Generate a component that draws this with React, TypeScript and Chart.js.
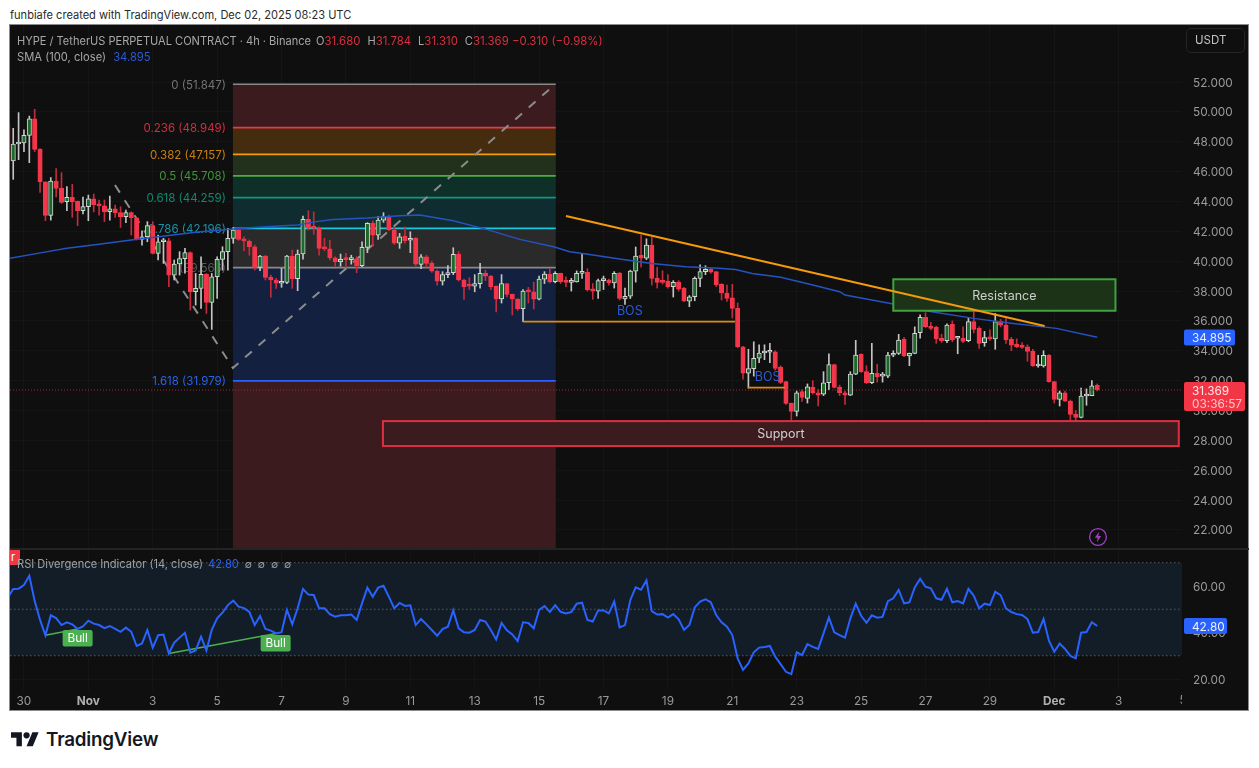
import { useEffect, useRef } from "react";
import { Chart, registerables } from "chart.js";

Chart.register(...registerables);

// one bar every 4h, first bar is index -3, index 0 sits on the "30" tick
const firstBar = -3;

const opens = [
  49.1, 46.71, 47.85, 47.93, 48.43, 49.54, 47.49, 45.32, 43.07, 45.37,
  44.9, 43.98, 44.27, 44.03, 43.38, 43.65, 44.18, 43.83, 43.7, 43.31,
  43.5, 43.25, 42.98, 43.25, 42.91, 41.46, 41.64, 42.38, 40.52, 41.3,
  41.37, 39.07, 39.81, 40.17, 40.57, 37.96, 38.18, 39.12, 37.24, 38.96,
  40.12, 40.64, 41.53, 42.08, 41.5, 41.35, 40.97, 39.59, 40.35, 38.92,
  38.74, 38.52, 38.57, 40.35, 38.83, 40.48, 42.8, 42.24, 42.2, 40.9,
  40.82, 40.23, 39.96, 40.12, 40.1, 40.16, 39.7, 40.93, 42.53, 41.75,
  42.75, 42.98, 42.09, 41.2, 41.68, 41.4, 41.53, 39.79, 40.3, 39.85,
  39.34, 38.67, 39.1, 39.23, 40.46, 38.74, 38.4, 38.33, 38.5, 39.18,
  39.0, 38.33, 37.47, 38.5, 37.78, 37.47, 36.82, 38.0, 37.95, 37.45,
  38.8, 39.14, 38.63, 39.18, 38.67, 38.58, 38.62, 39.18, 39.25, 38.15,
  38.0, 38.7, 38.74, 38.55, 39.2, 37.47, 37.65, 39.33, 40.4, 40.2,
  41.08, 38.87, 38.65, 38.67, 38.3, 38.6, 38.18, 37.33, 37.62, 38.85,
  39.3, 39.45, 39.3, 38.45, 37.87, 37.55, 36.84, 34.27, 32.5, 32.8,
  33.5, 33.85, 33.9, 33.93, 32.9, 31.93, 30.5, 29.94, 31.26, 30.81,
  31.55, 31.19, 31.1, 31.86, 33.07, 31.55, 31.19, 31.03, 32.44, 33.76,
  32.6, 31.86, 32.49, 32.3, 32.3, 33.7, 33.82, 34.76, 33.65, 33.83,
  35.21, 36.24, 35.66, 35.57, 34.83, 34.67, 35.77, 34.84, 34.85, 34.67,
  35.95, 35.5, 34.54, 34.9, 34.8, 35.95, 35.72, 34.76, 34.45, 34.38,
  34.27, 33.98, 32.98, 32.98, 33.71, 31.93, 30.75, 31.19, 30.63, 29.74,
  29.54, 30.97, 31.0, 31.68
];

const closes = [
  46.71, 47.84, 47.93, 48.43, 49.54, 47.49, 45.32, 43.07, 45.37, 44.87,
  43.94, 44.27, 43.98, 43.38, 43.65, 44.18, 43.78, 43.7, 43.31, 43.5,
  43.25, 42.98, 43.25, 42.91, 41.46, 41.64, 42.38, 40.52, 41.3, 41.37,
  39.07, 39.81, 40.17, 40.57, 37.96, 38.18, 39.12, 37.24, 38.96, 40.12,
  40.64, 41.53, 42.08, 41.46, 41.35, 40.97, 39.59, 40.35, 38.92, 38.74,
  38.52, 38.57, 40.35, 38.83, 40.48, 42.8, 42.24, 42.2, 40.86, 40.82,
  40.23, 39.96, 40.12, 40.1, 40.16, 39.7, 40.93, 42.53, 41.75, 42.75,
  42.98, 42.09, 41.2, 41.64, 41.37, 41.45, 39.8, 40.3, 39.85, 39.34,
  38.67, 39.1, 39.23, 40.46, 38.74, 38.3, 38.33, 38.5, 39.18, 39.0,
  38.3, 37.47, 38.5, 37.78, 37.47, 36.82, 38.0, 37.95, 37.45, 38.8,
  39.14, 38.63, 39.18, 38.63, 38.58, 38.62, 39.18, 39.25, 38.1, 38.0,
  38.7, 38.74, 38.55, 39.18, 37.5, 37.65, 39.33, 40.35, 40.2, 41.08,
  38.85, 38.58, 38.58, 38.3, 38.58, 38.13, 37.33, 37.62, 38.85, 39.3,
  39.45, 39.27, 38.43, 37.87, 37.5, 36.84, 34.27, 32.5, 32.8, 33.5,
  33.85, 33.93, 33.97, 32.82, 31.88, 30.48, 29.94, 31.19, 30.88, 31.59,
  31.19, 31.03, 31.86, 33.07, 31.55, 31.19, 31.03, 32.44, 33.71, 32.6,
  31.86, 32.49, 32.27, 32.33, 33.71, 33.83, 34.72, 33.65, 33.83, 35.17,
  36.24, 35.61, 35.5, 34.79, 34.67, 35.72, 34.72, 34.9, 34.63, 35.95,
  35.43, 34.5, 34.88, 34.8, 35.95, 35.72, 34.72, 34.38, 34.27, 34.23,
  33.96, 32.98, 33.02, 33.69, 31.93, 30.75, 31.19, 30.63, 29.74, 29.54,
  30.97, 31.0, 31.66, 31.37
];

const highs = [
  49.6, 48.9, 49.95, 48.8, 49.72, 50.17, 47.55, 45.32, 45.6, 46.2,
  45.93, 44.99, 45.15, 44.03, 44.3, 44.43, 44.5, 44.1, 44.1, 44.36,
  43.76, 43.65, 43.43, 43.31, 42.91, 42.04, 42.65, 42.65, 41.75, 41.53,
  41.53, 40.08, 40.64, 40.86, 40.63, 39.18, 40.3, 39.18, 39.18, 40.3,
  40.97, 42.2, 42.26, 42.2, 41.64, 41.42, 41.08, 40.4, 40.4, 39.07,
  38.85, 39.52, 40.4, 40.75, 40.75, 43.02, 43.38, 43.3, 42.3, 41.53,
  41.4, 40.3, 40.48, 40.52, 40.4, 40.3, 41.3, 42.58, 42.7, 42.98,
  43.25, 43.09, 42.2, 41.86, 42.3, 41.97, 41.6, 40.45, 40.4, 40.0,
  39.4, 39.3, 39.7, 40.9, 40.65, 38.8, 38.9, 39.1, 39.85, 39.4,
  39.05, 38.35, 39.1, 38.5, 37.8, 37.5, 38.1, 38.25, 38.6, 39.0,
  39.3, 39.5, 39.3, 39.2, 38.95, 38.85, 39.35, 40.5, 39.5, 38.5,
  38.8, 39.0, 38.8, 39.3, 39.25, 38.2, 39.4, 40.95, 41.75, 41.5,
  41.6, 39.6, 39.36, 39.1, 38.7, 38.7, 38.25, 37.7, 38.95, 39.75,
  39.7, 39.5, 39.3, 38.5, 38.4, 38.45, 37.2, 34.3, 34.1, 34.6,
  34.4, 34.4, 34.5, 34.0, 33.0, 31.95, 30.5, 31.3, 31.4, 31.78,
  32.0, 31.4, 32.6, 33.8, 33.1, 31.7, 31.3, 32.6, 34.7, 33.8,
  33.0, 34.5, 33.1, 32.55, 33.9, 34.0, 35.1, 34.9, 33.85, 35.6,
  36.4, 36.55, 35.9, 35.65, 35.1, 35.8, 36.0, 34.9, 35.6, 36.2,
  36.8, 35.6, 35.3, 35.4, 36.5, 36.1, 36.2, 34.9, 34.8, 34.55,
  34.4, 34.1, 33.7, 34.0, 33.75, 31.95, 31.3, 31.3, 30.7, 30.0,
  31.5, 31.45, 32.0, 31.78
];

const lows = [
  46.5, 45.48, 46.8, 47.33, 46.6, 47.33, 44.6, 42.71, 42.75, 44.3,
  43.87, 43.38, 42.94, 42.38, 43.16, 42.71, 43.3, 43.09, 42.65, 42.75,
  42.94, 42.26, 42.58, 41.75, 41.42, 41.08, 41.3, 40.48, 40.08, 39.85,
  38.29, 38.74, 39.07, 39.19, 36.73, 37.06, 36.84, 36.5, 35.43, 37.5,
  39.4, 39.4, 41.2, 41.4, 40.7, 40.4, 39.4, 39.36, 38.74, 37.58,
  38.18, 38.25, 38.5, 38.18, 38.02, 40.14, 42.08, 41.8, 40.4, 40.7,
  40.08, 39.67, 39.67, 39.58, 39.8, 39.23, 39.63, 40.57, 41.0, 41.46,
  42.6, 42.04, 41.12, 40.86, 41.2, 40.57, 39.7, 39.5, 39.6, 39.25,
  38.4, 38.4, 38.9, 39.1, 38.67, 37.44, 38.1, 37.95, 38.2, 38.7,
  38.1, 36.6, 37.2, 37.6, 36.4, 36.7, 35.95, 37.2, 36.8, 37.4,
  38.5, 38.55, 38.55, 38.5, 38.3, 38.0, 38.6, 38.85, 38.0, 37.45,
  37.5, 38.1, 38.4, 38.2, 37.4, 37.1, 37.5, 38.6, 39.6, 40.1,
  38.4, 38.2, 38.47, 38.2, 37.6, 38.0, 37.3, 36.95, 37.35, 38.3,
  39.1, 39.2, 38.3, 37.4, 37.3, 36.2, 34.2, 32.1, 31.5, 32.3,
  33.2, 33.4, 33.2, 32.7, 31.8, 30.4, 29.3, 29.63, 30.6, 30.5,
  31.1, 30.3, 31.0, 31.4, 31.5, 31.0, 30.4, 31.0, 32.4, 32.55,
  31.8, 31.8, 31.9, 31.9, 32.2, 33.6, 33.75, 33.6, 33.0, 33.8,
  34.85, 35.55, 35.4, 34.5, 34.55, 34.55, 34.6, 33.8, 34.55, 34.6,
  35.2, 34.15, 34.3, 34.7, 34.1, 35.6, 34.5, 34.0, 34.2, 34.15,
  33.3, 32.95, 32.9, 32.9, 31.9, 30.5, 30.3, 30.6, 29.25, 29.25,
  29.5, 30.35, 31.0, 31.31
];

const rsiValues = [
  55, 58.7, 58.85, 60.4, 64.4, 53.5, 45.4, 38.8, 47.4, 46.2,
  43.2, 44.4, 43.5, 41.5, 42.6, 45.1, 43.8, 43.2, 41.9, 42.8,
  41.6, 40.3, 42.1, 40.3, 34.2, 35.3, 41.1, 33.5, 38.8, 39.1,
  31.0, 35.6, 37.8, 39.9, 31.3, 32.3, 38.2, 32.3, 41.1, 46.1,
  48.5, 51.8, 53.7, 51.1, 50.5, 48.9, 43.2, 47.1, 41.5, 40.8,
  39.6, 40.1, 49.7, 43.5, 50.4, 58.7, 56.3, 56.1, 50.4, 50.4,
  47.9, 46.8, 47.4, 47.4, 47.7, 45.4, 52.5, 59.3, 55.4, 59.3,
  60.1, 55.4, 50.4, 52.7, 51.4, 51.7, 43.2, 45.8, 43.5, 41.1,
  38.6, 41.5, 42.5, 49.5, 41.8, 40.1, 39.9, 41.1, 45.4, 44.7,
  41.1, 37.0, 44.1, 40.9, 39.2, 36.3, 44.4, 44.1, 41.8, 49.7,
  51.4, 48.8, 51.8, 48.9, 48.2, 48.8, 52.4, 52.8, 45.4, 44.7,
  49.5, 49.5, 48.2, 53.3, 42.2, 43.2, 54.0, 59.4, 58.4, 62.4,
  49.2, 47.7, 47.9, 46.4, 47.9, 45.7, 41.1, 43.2, 50.8, 53.3,
  54.3, 53.0, 47.5, 44.4, 42.5, 38.9, 28.9, 23.9, 26.7, 31.5,
  33.5, 33.8, 34.2, 29.6, 26.4, 23.1, 22.1, 31.5, 30.3, 35.0,
  33.8, 32.9, 39.6, 46.4, 40.1, 38.9, 37.8, 46.1, 52.4, 47.2,
  44.2, 47.4, 46.4, 46.7, 53.5, 54.7, 58.3, 52.5, 53.0, 59.4,
  63.1, 59.7, 59.0, 54.7, 54.1, 58.8, 53.0, 53.5, 52.5, 58.8,
  55.8, 50.4, 52.4, 51.8, 57.5, 56.1, 50.4, 48.8, 47.9, 47.5,
  45.8, 39.9, 40.2, 45.8, 36.5, 31.7, 35.2, 32.9, 29.9, 28.9,
  39.9, 40.2, 44.4, 42.8
];

const smaBars = [
  -2.6, 3.6, 8, 14, 20, 26.6, 32.8, 39, 45, 51, 54.5, 57.6, 64, 70, 73.8, 80,
  86.2, 92.4, 98.7, 101.7, 104.8, 111, 117, 123.3, 129.5, 132.6, 135.7, 141,
  147, 152, 153, 162, 168, 177, 184, 192.4, 200
];
const smaValues = [
  40.19, 40.59, 40.86, 41.13, 41.42, 41.71, 41.98, 42.15, 42.31, 42.42, 42.65,
  42.8, 42.89, 43.05, 43.09, 42.71, 42.13, 41.46, 40.97, 40.63, 40.48, 40.14,
  39.85, 39.63, 39.52, 39.45, 39.18, 38.92, 38.4, 37.96, 37.73, 37.13, 36.68,
  36.17, 35.84, 35.5, 34.9
];

const dayTickBars = [0, 12, 24, 36, 48, 60, 72, 84, 96, 108, 120, 132, 144, 156, 168, 180, 192, 204];
const dayTickNames = ["30", "Nov", "3", "5", "7", "9", "11", "13", "15", "17", "19", "21", "23", "25", "27", "29", "Dec", "3"];
const priceTicks = [22, 24, 26, 28, 30, 32, 34, 36, 38, 40, 42, 44, 46, 48, 50, 52];
const rsiTicks = [20, 40, 60];

const fibRatios = ["0", "0.236", "0.382", "0.5", "0.618", "0.786", "1", "1.618"];
const fibPrices = [51.847, 48.949, 47.157, 45.708, 44.259, 42.196, 39.566, 31.979];
const fibStartBar = 38.94;
const fibEndBar = 99.1;

const swingBars = [16.96, 38.94, 98.2];
const swingPrices = [45.1, 32.84, 51.6];

const trendBars = [101, 190.2];
const trendPrices = [43.03, 35.66];

const bosBars = [93, 132.5, 134.9, 141.8];
const bosPrices = [35.95, 31.53];
const bosLabelBars = [112.9, 138.6];
const bosLabelPrices = [36.66, 32.24];

const resistanceZone = [162, 203.4, 36.68, 38.79];
const supportZone = [66.9, 215.2, 27.62, 29.29];

const lastPrice = 31.369;
const smaLast = 34.895;
const rsiLast = 42.8;
const rsiBands = [70, 50, 30];

const bullBars = [4, 10, 27, 47];
const bullValues = [38.8, 41.5, 31.0, 39.6];
const bullLabelBars = [10, 46.9];
const bullLabelValues = [37.6, 35.5];

const FONT = "Inter, sans-serif";
const GRID = "rgba(255,255,255,0.028)";
const TICK = "#9a9a9a";
const UP_FILL = "#1c6a2b";
const UP_EDGE = "#d6d6d6";
const UP_WICK = "#c4c4c4";
const DOWN_FILL = "#f5364a";
const DOWN_WICK = "#c22c3c";
const BLUE = "#2962ff";
const fibLine = ["#8a8a8a", "#e53b48", "#f79a0c", "#4caf3c", "#0e9a80", "#19c8dc", "#8a8a8a", "#2962ff"];
const fibText = ["#747474", "#cf2f3d", "#c97f10", "#3f953a", "#0e8a70", "#1b93a8", "#5a5a5a", "#2a62e8"];
const fibFill = ["#3c1b1f", "#452c0e", "#21311c", "#0f3029", "#0f2d31", "#2a2a2a", "#142040", "#3c1b1f"];

const bars = opens.map((_, i) => i + firstBar);
const isUp = opens.map((o, i) => closes[i] >= o);

const segment = (xs: number[], ys: number[]) => xs.map((x, i) => ({ x, y: ys[i] }));

const lineSet = (data: { x: number; y: number }[], color: string, width: number, order: number, dash: number[] = []) => ({
  type: "line" as const,
  data,
  borderColor: color,
  borderWidth: width,
  borderDash: dash,
  pointRadius: 0,
  tension: 0,
  fill: false,
  order
});

const zonesPlugin = {
  id: "zones",
  beforeDatasetsDraw(chart: any) {
    const { ctx, scales } = chart;
    const { x, y } = scales;
    const left = x.getPixelForValue(fibStartBar);
    const right = x.getPixelForValue(fibEndBar);
    ctx.save();
    fibPrices.forEach((p, i) => {
      const top = y.getPixelForValue(p);
      const bottom = i < fibPrices.length - 1 ? y.getPixelForValue(fibPrices[i + 1]) : chart.chartArea.bottom;
      ctx.fillStyle = fibFill[i];
      ctx.fillRect(left, top, right - left, bottom - top);
    });
    ctx.font = `11.5px ${FONT}`;
    ctx.textAlign = "right";
    ctx.textBaseline = "middle";
    fibPrices.forEach((p, i) => {
      ctx.fillStyle = fibText[i];
      ctx.fillText(`${fibRatios[i]} (${p.toFixed(3)})`, left - 7, y.getPixelForValue(p) + 1);
    });
    ctx.restore();
  }
};

const boxesPlugin = {
  id: "boxes",
  afterDatasetDraw(chart: any, args: any) {
    // boxes sit under the orange trend line, so they go in right after the sma
    if (chart.data.datasets[args.index].label !== "sma") return;
    const { ctx, scales } = chart;
    const { x, y } = scales;
    const box = (zone: number[], fill: string, edge: string, text: string) => {
      const left = x.getPixelForValue(zone[0]);
      const right = x.getPixelForValue(zone[1]);
      const top = y.getPixelForValue(zone[3]);
      const bottom = y.getPixelForValue(zone[2]);
      ctx.fillStyle = fill;
      ctx.fillRect(left, top, right - left, bottom - top);
      ctx.strokeStyle = edge;
      ctx.lineWidth = 2;
      ctx.strokeRect(left, top, right - left, bottom - top);
      ctx.fillStyle = "#cfcfcf";
      ctx.font = `12.5px ${FONT}`;
      ctx.textAlign = "center";
      ctx.textBaseline = "middle";
      ctx.fillText(text, (left + right) / 2, (top + bottom) / 2 + 1);
    };
    ctx.save();
    box(resistanceZone, "#1c3318", "#3fa33f", "Resistance");
    box(supportZone, "#3c1b1f", "#dc3040", "Support");
    ctx.restore();
  }
};

const tagsPlugin = {
  id: "tags",
  afterDraw(chart: any) {
    const { ctx, scales, chartArea } = chart;
    const { x, y } = scales;
    ctx.save();
    ctx.font = `12.5px ${FONT}`;
    ctx.textAlign = "center";
    ctx.textBaseline = "middle";
    ctx.fillStyle = "#2a5bd6";
    bosLabelBars.forEach((b, i) => {
      ctx.fillText("BOS", x.getPixelForValue(b), y.getPixelForValue(bosLabelPrices[i]));
    });

    const left = chartArea.right + 2;
    ctx.textAlign = "left";
    ctx.font = `11.8px ${FONT}`;

    const smaY = y.getPixelForValue(smaLast);
    ctx.fillStyle = BLUE;
    ctx.beginPath();
    ctx.roundRect(left, smaY - 8, 51, 16, 2);
    ctx.fill();
    ctx.fillStyle = "#e8eeff";
    ctx.fillText(smaLast.toFixed(3), left + 8, smaY + 1);

    const lastY = y.getPixelForValue(lastPrice);
    ctx.fillStyle = "#f23645";
    ctx.beginPath();
    ctx.roundRect(left, lastY - 8, 61, 29, 2);
    ctx.fill();
    ctx.fillStyle = "#ffe6e8";
    ctx.fillText(lastPrice.toFixed(3), left + 8, lastY + 1);
    ctx.fillStyle = "#ffc4c9";
    ctx.fillText("03:36:57", left + 8, lastY + 14);
    ctx.restore();
  }
};

const rsiPlugin = {
  id: "rsiExtras",
  beforeDatasetsDraw(chart: any) {
    const { ctx, scales, chartArea } = chart;
    const top = scales.y.getPixelForValue(rsiBands[0]);
    const bottom = scales.y.getPixelForValue(rsiBands[2]);
    ctx.save();
    ctx.fillStyle = "#121d27";
    ctx.fillRect(chartArea.left, top, chartArea.right - chartArea.left, bottom - top);
    ctx.restore();
  },
  afterDraw(chart: any) {
    const { ctx, scales, chartArea } = chart;
    const { x, y } = scales;
    ctx.save();
    ctx.textAlign = "center";
    ctx.textBaseline = "middle";
    ctx.font = `11.8px ${FONT}`;
    bullLabelBars.forEach((b, i) => {
      const cx = x.getPixelForValue(b);
      const cy = y.getPixelForValue(bullLabelValues[i]);
      ctx.fillStyle = "#4caf50";
      ctx.beginPath();
      ctx.roundRect(cx - 15, cy - 8, 30, 16.5, 2);
      ctx.fill();
      ctx.fillStyle = "#ffffff";
      ctx.fillText("Bull", cx, cy + 0.5);
    });

    const tagY = y.getPixelForValue(rsiLast);
    ctx.fillStyle = BLUE;
    ctx.beginPath();
    ctx.roundRect(chartArea.right + 2, tagY - 8, 43, 16, 2);
    ctx.fill();
    ctx.textAlign = "left";
    ctx.fillStyle = "#eef2ff";
    ctx.fillText(rsiLast.toFixed(2), chartArea.right + 10, tagY + 1);

    // the next day label is cut by the price scale
    ctx.beginPath();
    ctx.rect(chartArea.right - 4, chartArea.bottom, 4, 21);
    ctx.clip();
    ctx.textAlign = "center";
    ctx.fillStyle = TICK;
    ctx.fillText("5", x.getPixelForValue(216), chartArea.bottom + 10);
    ctx.restore();
  }
};

const isMonthTick = (ctx: any) => !!ctx.tick && (ctx.tick.value === 12 || ctx.tick.value === 192);

const dropPadding = (scale: any) => {
  scale.paddingTop = 0;
  scale.paddingBottom = 0;
  scale.paddingLeft = 0;
  scale.paddingRight = 0;
};

const xScale = (showLabels: boolean) => ({
  type: "linear" as const,
  min: -2.6,
  max: 215.8,
  offset: false,
  grid: { color: GRID, drawTicks: false, offset: false },
  border: { display: false },
  afterBuildTicks: (scale: any) => {
    scale.ticks = dayTickBars.map((value) => ({ value }));
  },
  afterFit: (scale: any) => {
    scale.height = showLabels ? 21 : 0;
    dropPadding(scale);
  },
  ticks: {
    display: showLabels,
    autoSkip: false,
    maxRotation: 0,
    padding: 4,
    color: (ctx: any) => (isMonthTick(ctx) ? "#b0b0b0" : TICK),
    font: (ctx: any) => ({
      family: FONT,
      size: 11.8,
      weight: isMonthTick(ctx) ? "bold" : "normal"
    }),
    callback: (value: number | string) => dayTickNames[dayTickBars.indexOf(Number(value))]
  }
});

const yScale = (min: number, max: number, ticks: number[], digits: number) => ({
  position: "right" as const,
  min,
  max,
  beginAtZero: false,
  grid: { color: GRID, drawTicks: false },
  border: { display: false },
  afterBuildTicks: (scale: any) => {
    scale.ticks = ticks.map((value) => ({ value }));
  },
  afterFit: (scale: any) => {
    scale.width = 67;
    dropPadding(scale);
  },
  ticks: {
    autoSkip: false,
    padding: 11,
    labelOffset: 1,
    color: TICK,
    font: { family: FONT, size: 11.8 },
    callback: (value: number | string) => Number(value).toFixed(digits)
  }
});

function PricePane() {
  const canvasRef = useRef<HTMLCanvasElement | null>(null);

  useEffect(() => {
    if (!canvasRef.current) return;

    const fibSets = fibPrices.map((p, i) =>
      lineSet(segment([fibStartBar, fibEndBar], [p, p]), fibLine[i], i === 0 || i === 6 ? 1.6 : 1.8, 10)
    );

    const chart = new Chart(canvasRef.current, {
      type: "bar",
      data: {
        datasets: [
          ...fibSets,
          lineSet(segment(swingBars, swingPrices), "#8c8c8c", 2, 9, [9, 9]),
          {
            type: "bar",
            data: bars.map((x, i) => ({ x, y: [lows[i], highs[i]] })),
            backgroundColor: isUp.map((up) => (up ? UP_WICK : DOWN_WICK)),
            barThickness: 1,
            grouped: false,
            order: 6
          },
          {
            type: "bar",
            data: bars.map((x, i) => ({ x, y: [opens[i], closes[i]] })),
            backgroundColor: isUp.map((up) => (up ? UP_FILL : DOWN_FILL)),
            borderColor: isUp.map((up) => (up ? UP_EDGE : DOWN_FILL)),
            borderWidth: 1,
            borderSkipped: false,
            barThickness: 4.4,
            minBarLength: 2,
            grouped: false,
            order: 5
          },
          { ...lineSet(segment(smaBars, smaValues), "#2553c4", 1.5, 4), label: "sma" },
          lineSet(segment(trendBars, trendPrices), "#f59a0c", 2, 3),
          lineSet(segment([bosBars[0], bosBars[1]], [bosPrices[0], bosPrices[0]]), "#e08a10", 1.6, 3),
          lineSet(segment([bosBars[2], bosBars[3]], [bosPrices[1], bosPrices[1]]), "#e08a10", 1.6, 3),
          lineSet(segment([-2.6, 215.8], [lastPrice, lastPrice]), "#a12a36", 1, 2, [1, 2])
        ] as any
      },
      options: {
        responsive: false,
        animation: false,
        layout: { padding: 0 },
        plugins: { legend: { display: false }, tooltip: { enabled: false } },
        scales: {
          x: xScale(false),
          y: yScale(20.79, 55.82, priceTicks, 3)
        }
      } as any,
      plugins: [zonesPlugin, boxesPlugin, tagsPlugin]
    });

    return () => chart.destroy();
  }, []);

  return <canvas ref={canvasRef} width={1239} height={523} style={{ display: "block" }} />;
}

function RsiPane() {
  const canvasRef = useRef<HTMLCanvasElement | null>(null);

  useEffect(() => {
    if (!canvasRef.current) return;

    const chart = new Chart(canvasRef.current, {
      type: "line",
      data: {
        datasets: [
          ...rsiBands.map((v) => lineSet(segment([-2.6, 215.8], [v, v]), "#5c5c5c", 1, 5, [1.5, 2.5])),
          lineSet(segment(bars, rsiValues), BLUE, 2, 2),
          lineSet(segment([bullBars[0], bullBars[1]], [bullValues[0], bullValues[1]]), "#4caf50", 1.6, 3),
          lineSet(segment([bullBars[2], bullBars[3]], [bullValues[2], bullValues[3]]), "#4caf50", 1.6, 3)
        ] as any
      },
      options: {
        responsive: false,
        animation: false,
        layout: { padding: 0 },
        plugins: { legend: { display: false }, tooltip: { enabled: false } },
        scales: {
          x: xScale(true),
          y: yScale(15.27, 75.05, rsiTicks, 2)
        }
      } as any,
      plugins: [rsiPlugin]
    });

    return () => chart.destroy();
  }, []);

  return <canvas ref={canvasRef} width={1239} height={160} style={{ display: "block" }} />;
}

const abs = (left: number, top: number, extra: object = {}) => ({
  position: "absolute" as const,
  left,
  top,
  whiteSpace: "pre" as const,
  ...extra
});

const RED = { color: "#d9303f", fontSize: 11.4 };
const gap = (width: number) => <span style={{ display: "inline-block", width }} />;

export default function App() {
  return (
    <div style={{ position: "absolute", left: 0, top: 0, width: 1259, height: 768, background: "#fff", overflow: "hidden", fontFamily: FONT }}>
      <div style={abs(10, 8, { fontSize: 11.05, lineHeight: "14px", color: "#2a2a2a" })}>
        funbiafe created with TradingView.com, Dec 02, 2025 08:23 UTC
      </div>

      <div style={abs(9, 24, { width: 1240, height: 687, boxSizing: "border-box", border: "1px solid #8c8c8c", background: "#0f0f0f" })} />

      <div style={abs(10, 25)}>
        <PricePane />
      </div>
      <div style={abs(10, 548, { width: 1239, height: 2, background: "#242424" })} />
      <div style={abs(10, 551)}>
        <RsiPane />
      </div>

      <div style={abs(17, 34, { fontSize: 11.05, lineHeight: "14px", color: "#a8a8a8" })}>
        {"HYPE / TetherUS PERPETUAL CONTRACT · 4h · Binance"}
        {gap(5)}
        {"O"}
        <span style={RED}>31.680</span>
        {gap(7)}
        {"H"}
        <span style={RED}>31.784</span>
        {gap(7)}
        {"L"}
        <span style={RED}>31.310</span>
        {gap(7)}
        {"C"}
        <span style={RED}>31.369</span>
        <span style={RED}>{" −0.310 (−0.98%)"}</span>
      </div>
      <div style={abs(17, 50, { fontSize: 11.2, lineHeight: "14px", color: "#a8a8a8" })}>
        {"SMA (100, close)"}
        {gap(7)}
        <span style={{ color: "#2a5bd6" }}>34.895</span>
      </div>

      <div
        style={abs(1186, 28, {
          width: 59,
          height: 25,
          boxSizing: "border-box",
          border: "1px solid #262626",
          borderRadius: 5,
          paddingLeft: 8,
          fontSize: 11.5,
          lineHeight: "23px",
          color: "#c4c4c4"
        })}
      >
        USDT
      </div>

      <div style={abs(10, 550, { width: 10, height: 15, background: "#f23645", color: "#fff", fontSize: 11, lineHeight: "14px", textIndent: 1 })}>r</div>
      <div style={abs(17, 557, { fontSize: 11.1, lineHeight: "14px", color: "#a0a0a0" })}>
        {"RSI Divergence Indicator (14, close)"}
        {gap(5)}
        <span style={{ color: BLUE }}>42.80</span>
        <span style={{ fontSize: 10.5 }}>{"  ∅  ∅  ∅  ∅"}</span>
      </div>

      <svg style={abs(1088, 527)} width="20" height="20" viewBox="0 0 20 20">
        <circle cx="10" cy="10" r="8.4" fill="none" stroke="#a23ec2" strokeWidth="1.3" />
        <path d="M11 4.8 6.8 10.8h2.8L8.9 15.2l4.3-6.1h-2.8z" fill="#a23ec2" />
      </svg>

      <svg style={abs(11, 729)} width="28" height="22" viewBox="0 0 36 28">
        <path d="M14 22H7V11H0V4h14v18zM28 22h-8l7.5-18h8L28 22z" fill="#131722" />
        <circle cx="20" cy="8" r="4" fill="#131722" />
      </svg>
      <div style={abs(46, 726, { fontSize: 18.8, lineHeight: "28px", fontWeight: 600, letterSpacing: -0.2, color: "#131722" })}>TradingView</div>
    </div>
  );
}
